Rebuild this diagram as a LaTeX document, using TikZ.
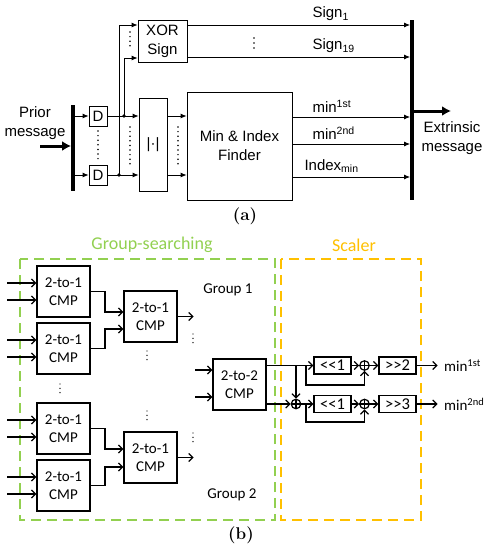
\documentclass[tikz,border=0pt]{standalone}
\usepackage{fontspec}
\newfontfamily\arial{Liberation Sans}
\newfontfamily\calib{Carlito}
\usetikzlibrary{arrows.meta,calc}
\definecolor{grn}{RGB}{146,208,80}
\definecolor{yel}{RGB}{255,192,0}
\begin{document}
\begin{tikzpicture}[x=1pt,y=-1pt,
  afont/.style={font=\arial\fontsize{15}{19}\selectfont},
  ablk/.style={draw, line width=0.8pt, afont, inner sep=0pt, align=center},
  aarr/.style={-{Latex[length=6pt,width=5pt]}, line width=0.8pt},
  thickarr/.style={-{Latex[length=9pt,width=10pt]}, line width=3pt},
  vbar/.style={fill=black, inner sep=0pt, minimum width=3.5pt},
  adots/.style={line width=1.7pt, dash pattern=on 0pt off 4.6pt, line cap=round},
  bfont/.style={font=\calib\fontsize{15}{18}\selectfont},
  bblk/.style={draw, line width=1.3pt, bfont, inner sep=0pt, align=center, minimum width=53pt, minimum height=51pt},
  sblk/.style={draw, line width=1.3pt, font=\calib\fontsize{16.5}{18}\selectfont, inner sep=0pt, minimum width=37pt, minimum height=17pt},
  pls/.style={draw, circle, line width=1.2pt, minimum size=9.5pt, inner sep=0pt},
  barr/.style={-{Straight Barb[length=4pt,width=8pt]}, line width=1.3pt},
  bline/.style={line width=1.3pt},
  bdots/.style={line width=1.4pt, dash pattern=on 0pt off 4.3pt, line cap=round},
  gbox/.style={draw=#1, line width=1.5pt, dash pattern=on 10pt off 6pt}
]
\useasboundingbox (0,0) rectangle (490,550);

% ---------------- (a) ----------------
\node[afont, align=center] (prior) at (35,123) {Prior\\message};
\node[vbar, minimum height=86pt] (bar1) at (73,147.5) {};
\coordinate (pin) at (40,146);
\draw[thickarr] (pin) -- (bar1.west |- pin);

\node[ablk, minimum width=18pt, minimum height=20pt] (d1) at (98,116) {D};
\node[ablk, minimum width=18pt, minimum height=20pt] (d2) at (98,175) {D};
\draw[aarr] (bar1.east |- d1) -- (d1);
\draw[aarr] (bar1.east |- d2) -- (d2);

\node[ablk, minimum width=28pt, minimum height=93pt] (abs) at (153,144.5) {|·|};
\node[ablk, minimum width=49pt, minimum height=42pt] (xor) at (162.5,41) {XOR\\Sign};
\node[ablk, minimum width=105pt, minimum height=108pt] (mif) at (239.5,146) {Min \& Index\\Finder};
\node[vbar, minimum height=180pt] (bar2) at (412,110) {};

\coordinate (j1) at (124,116);
\coordinate (j2) at (119,175);
\draw[line width=0.8pt] (d1) -- (j1);
\draw[line width=0.8pt] (d2) -- (j2);
\draw[aarr] (j1) -- (abs.west |- j1);
\draw[aarr] (j2) -- (abs.west |- j2);
\draw[aarr] (j1) |- (xor.west |- 0,58);
\draw[aarr] (j2) |- (xor.west |- 0,25);
\fill (j1) circle (1.8pt);
\fill (j2) circle (1.8pt);

\draw[aarr] (abs.east |- j1) -- (mif.west |- j1);
\draw[aarr] (abs.east |- j2) -- (mif.west |- j2);

\draw[adots] (98,131) -- (98,163);
\draw[adots] (130,32) -- (130,50);
\draw[adots] (130,127) -- (130,165);
\draw[adots] (178,127) -- (178,165);
\draw[line width=1.6pt, dash pattern=on 0pt off 5pt, line cap=round] (254,38) -- (254,49);

\draw[aarr] (xor.east |- 0,25) -- (bar2.west |- 0,25);
\draw[aarr] (xor.east |- 0,57) -- (bar2.west |- 0,57);
\draw[aarr] (mif.east |- 0,117) -- (bar2.west |- 0,117);
\draw[aarr] (mif.east |- 0,144) -- (bar2.west |- 0,144);
\draw[aarr] (mif.east |- 0,177) -- (bar2.west |- 0,177);

\node[afont, anchor=west] (s1) at (309,14) {Sign\textsubscript{1}};
\node[afont, anchor=west] (s19) at (309,46) {Sign\textsubscript{19}};
\node[afont, anchor=west] (m1) at (309,106) {min\textsuperscript{1st}};
\node[afont, anchor=west] (m2) at (309,133) {min\textsuperscript{2nd}};
\node[afont, anchor=west] (im) at (301,166) {Index\textsubscript{min}};

\coordinate (pout) at (451,111);
\draw[thickarr] (bar2.east |- pout) -- (pout);
\node[afont, align=center] (ext) at (452,138) {Extrinsic\\message};

\node[font=\fontsize{17}{20}\selectfont\bfseries] (capa) at (245,216) {(a)};

% ---------------- (b) ----------------
\draw[gbox=grn] (20,259) rectangle (275,520);
\draw[gbox=yel] (281,259) rectangle (421,520);
\node[font=\calib\fontsize{18}{20}\selectfont, text=grn] (gs) at (152,245) {Group-searching};
\node[font=\calib\fontsize{18}{20}\selectfont, text=yel] (sc) at (354,245) {Scaler};

\node[bblk] (L1) at (63.5,291.5) {2-to-1\\CMP};
\node[bblk] (L2) at (63.5,348.5) {2-to-1\\CMP};
\node[bblk] (L3) at (63.5,428.5) {2-to-1\\CMP};
\node[bblk] (L4) at (63.5,485.5) {2-to-1\\CMP};
\node[bblk] (M1) at (150.5,316.5) {2-to-1\\CMP};
\node[bblk] (M2) at (150.5,457.5) {2-to-1\\CMP};
\node[bblk] (C22) at (239.5,384.5) {2-to-2\\CMP};

\foreach \n in {L1,L2,L3,L4}{
  \draw[barr] ($(\n.west)+(-29,-8.5)$) -- ($(\n.west)+(0,-8.5)$);
  \draw[barr] ($(\n.west)+(-29,8.5)$) -- ($(\n.west)+(0,8.5)$);
}
\draw[barr] (L1.east) -| (105,312) -- (M1.west |- 0,312);
\draw[barr] (L2.east) -| (105,329) -- (M1.west |- 0,329);
\draw[barr] (L3.east) -| (105,449) -- (M2.west |- 0,449);
\draw[barr] (L4.east) -| (105,467) -- (M2.west |- 0,467);
\draw[barr] (M1.east) -- ++(16,0);
\draw[barr] (M2.east) -- ++(16,0);
\draw[barr] (195,370) -- (C22.west |- 0,370);
\draw[barr] (195,397) -- (C22.west |- 0,397);

\draw[bdots] (193,334) -- (193,343);
\draw[bdots] (147,351) -- (147,360);
\draw[bdots] (60,384) -- (60,393);
\draw[bdots] (147,411) -- (147,420);
\draw[bdots] (193,433) -- (193,442);

\node[bfont] (g1) at (228,290) {Group 1};
\node[bfont] (g2) at (232,495) {Group 2};

\node[pls] (P1) at (296,404) {};
\node[pls] (P2) at (364.5,365.5) {};
\node[pls] (P3) at (364.5,404) {};
\foreach \p in {P1,P2,P3}{
  \draw[line width=1.1pt] (\p.north) -- (\p.south) (\p.west) -- (\p.east);
}
\node[sblk] (S1) at (332.5,365.5) {<<1};
\node[sblk] (S2) at (332.5,404) {<<1};
\node[sblk] (R1) at (397.5,365.5) {>>2};
\node[sblk] (R2) at (397.5,404) {>>3};

\draw[barr] (C22.east |- S1) -- (S1.west);
\draw[barr] (C22.east |- P1) -- (P1.west);
\draw[barr] (296,365.5) -- (P1.north);
\draw[barr] (306,365.5) |- (364.5,385) -- (P2.south);
\draw[barr] (P1.east) -- (S2.west);
\draw[barr] (306,404) |- (364.5,422) -- (P3.south);
\draw[barr] (S1.east) -- (P2.west);
\draw[barr] (S2.east) -- (P3.west);
\draw[barr] (P2.east) -- (R1.west);
\draw[barr] (P3.east) -- (R2.west);
\draw[barr] (R1.east) -- ++(21,0) coordinate (o1);
\draw[barr] (R2.east) -- ++(21,0) coordinate (o2);
\node[bfont, anchor=west] (mb1) at ([xshift=3pt]o1) {min\textsuperscript{1st}};
\node[bfont, anchor=west] (mb2) at ([xshift=3pt]o2) {min\textsuperscript{2nd}};

\node[font=\fontsize{17}{20}\selectfont\bfseries] (capb) at (241,535) {(b)};
\end{tikzpicture}
\end{document}
